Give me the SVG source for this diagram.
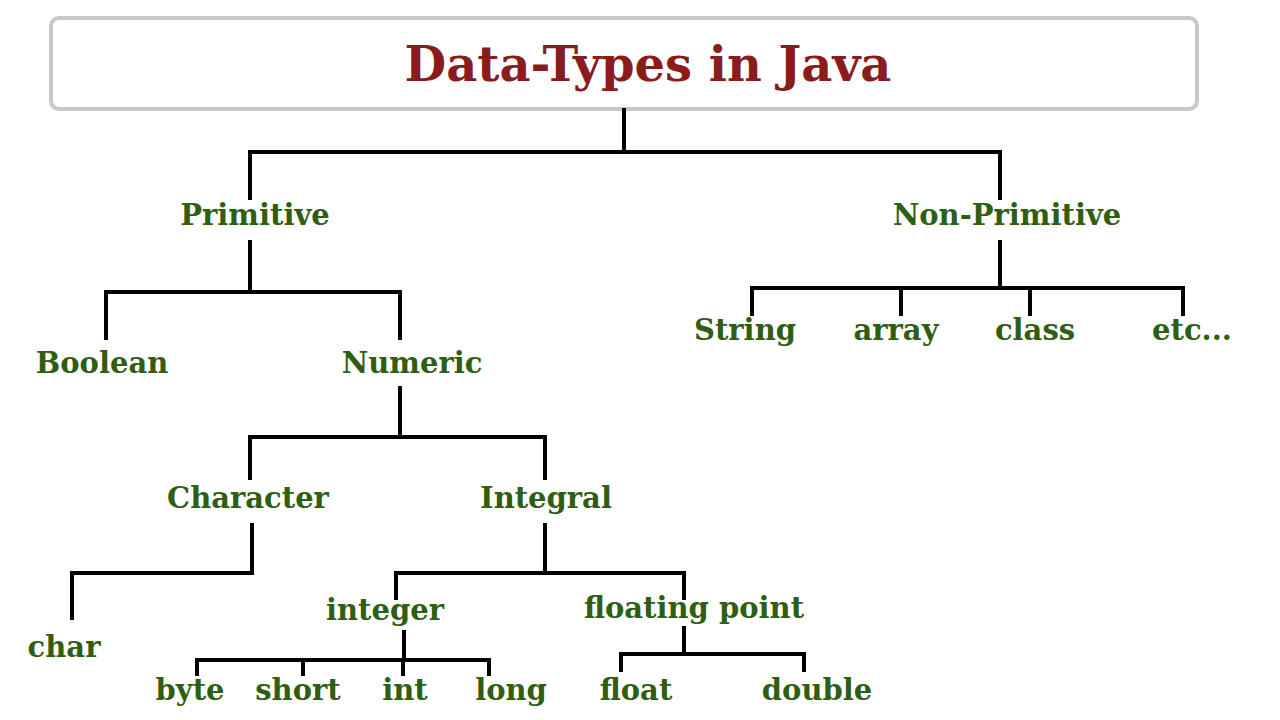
<svg xmlns="http://www.w3.org/2000/svg" width="1280" height="720" viewBox="0 0 1280 720">
<style>
.t{font-family:"DejaVu Serif","Liberation Serif",serif;font-size:29px;font-weight:bold;fill:#2f5e12;text-anchor:middle}
.c line{stroke:#000;stroke-width:4;stroke-linecap:square}
</style>
<rect width="1280" height="720" fill="#fff"/>
<g id="title"><rect x="51" y="18" width="1146" height="91" rx="8" fill="#fff" stroke="#c8c8c8" stroke-width="4"/>
<text x="648" y="81" font-family="'DejaVu Serif','Liberation Serif',serif" font-size="48" font-weight="bold" fill="#8b1c1c" text-anchor="middle">Data-Types in Java</text></g>
<g class="c" id="connectors">
<line x1="624" y1="110" x2="624" y2="152"/><line x1="250" y1="152" x2="1000" y2="152"/>
<line x1="250" y1="152" x2="250" y2="198"/><line x1="1000" y1="152" x2="1000" y2="198"/>
<line x1="250" y1="242" x2="250" y2="292"/><line x1="106" y1="292" x2="400" y2="292"/>
<line x1="106" y1="292" x2="106" y2="338"/><line x1="400" y1="292" x2="400" y2="338"/>
<line x1="400" y1="388" x2="400" y2="437"/><line x1="250" y1="437" x2="545" y2="437"/>
<line x1="250" y1="437" x2="250" y2="478"/><line x1="545" y1="437" x2="545" y2="478"/>
<line x1="252" y1="525" x2="252" y2="573"/><line x1="72" y1="573" x2="252" y2="573"/><line x1="72" y1="573" x2="72" y2="618"/>
<line x1="545" y1="525" x2="545" y2="573"/><line x1="396" y1="573" x2="684" y2="573"/>
<line x1="396" y1="573" x2="396" y2="598"/><line x1="684" y1="573" x2="684" y2="598"/>
<line x1="404" y1="632" x2="404" y2="660"/><line x1="197" y1="660" x2="489" y2="660"/>
<line x1="197" y1="660" x2="197" y2="674"/><line x1="303" y1="660" x2="303" y2="674"/><line x1="403" y1="660" x2="403" y2="674"/><line x1="489" y1="660" x2="489" y2="674"/>
<line x1="684" y1="628" x2="684" y2="654"/><line x1="621" y1="654" x2="804" y2="654"/>
<line x1="621" y1="654" x2="621" y2="670"/><line x1="804" y1="654" x2="804" y2="670"/>
<line x1="1000" y1="242" x2="1000" y2="288"/><line x1="752" y1="288" x2="1183" y2="288"/>
<line x1="752" y1="288" x2="752" y2="314"/><line x1="901" y1="288" x2="901" y2="314"/><line x1="1030" y1="288" x2="1030" y2="314"/><line x1="1183" y1="288" x2="1183" y2="314"/>
</g>
<g id="primitive"><text class="t" x="255" y="225">Primitive</text></g>
<g id="nonprimitive"><text class="t" x="1007" y="225">Non-Primitive</text></g>
<g id="boolean"><text class="t" x="102" y="373">Boolean</text></g>
<g id="numeric"><text class="t" x="412" y="373">Numeric</text></g>
<g id="character"><text class="t" x="248" y="508">Character</text></g>
<g id="integral"><text class="t" x="546" y="508">Integral</text></g>
<g id="char"><text class="t" x="64" y="657">char</text></g>
<g id="integer"><text class="t" x="385" y="620">integer</text></g>
<g id="floatingpoint"><text class="t" x="694" y="618">floating point</text></g>
<g id="byte"><text class="t" x="190" y="700">byte</text></g>
<g id="short"><text class="t" x="298" y="700">short</text></g>
<g id="int"><text class="t" x="405" y="700">int</text></g>
<g id="long"><text class="t" x="511" y="700">long</text></g>
<g id="float"><text class="t" x="636" y="700">float</text></g>
<g id="double"><text class="t" x="817" y="700">double</text></g>
<g id="string"><text class="t" x="745" y="340">String</text></g>
<g id="array"><text class="t" x="896" y="340">array</text></g>
<g id="class"><text class="t" x="1035" y="340">class</text></g>
<g id="etc"><text class="t" x="1192" y="340">etc...</text></g>
</svg>
